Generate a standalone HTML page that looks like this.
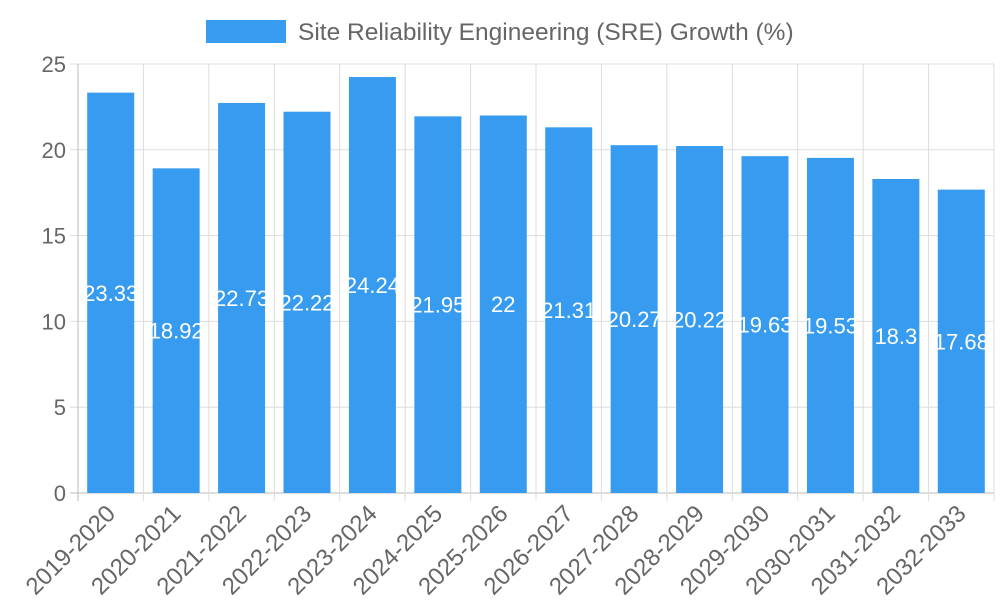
<!DOCTYPE html>
<html><head><meta charset="utf-8"><style>
body{margin:0;background:#fff;}
svg{display:block;font-family:"Liberation Sans",sans-serif;}
</style></head><body>
<svg id="chart" width="1000" height="600">
<rect x="206" y="20" width="80" height="23" fill="#379cef"/>
<text x="298" y="40" font-size="24.5" fill="#666">Site Reliability Engineering (SRE) Growth (%)</text>
<g id="grid"></g><g id="bars"></g><g id="labels"></g>
</svg>
<script>
const categories=["2019-2020","2020-2021","2021-2022","2022-2023","2023-2024","2024-2025","2025-2026","2026-2027","2027-2028","2028-2029","2029-2030","2030-2031","2031-2032","2032-2033"];
const values=[23.33,18.92,22.73,22.22,24.24,21.95,22,21.31,20.27,20.22,19.63,19.53,18.3,17.68];
const yTicks=[0,5,10,15,20,25];
const NS="http://www.w3.org/2000/svg";
const L=78,R=994,T=64,B=493,yMax=25;
const band=(R-L)/categories.length;
const y=v=>B-(v/yMax)*(B-T);
const x=i=>L+i*band;
function mk(tag,attrs,parent){const e=document.createElementNS(NS,tag);for(const k in attrs)e.setAttribute(k,attrs[k]);document.getElementById(parent).appendChild(e);return e;}
yTicks.forEach(t=>{
 const g=mk('line',{x1:L-8,x2:R,y1:y(t),y2:y(t),stroke:t===0?'#bbb':'#ddd'},'grid');
 
 
 const tx=mk('text',{x:L-12,y:y(t)+8,'text-anchor':'end','font-size':22,fill:'#666'},'grid');
 tx.textContent=t;
 
 
});
for(let i=0;i<=categories.length;i++){
 const g=mk('line',{x1:x(i),x2:x(i),y1:T,y2:B+8,stroke:i===0?'#bbb':'#ddd'},'grid');
 
 
}
categories.forEach((c,i)=>{
 const cx=x(i)+band/2,bw=47;
 const r=mk('rect',{x:cx-bw/2,y:y(values[i]),width:bw,height:B-y(values[i]),fill:'#379cef'},'bars');
 
 
 const v=mk('text',{x:cx,y:(y(values[i])+B)/2+8,'text-anchor':'middle','font-size':22,fill:'#fff'},'labels');
 v.textContent=values[i];
 
 
 const ax=cx+6,ay=B+22;
 const t=mk('text',{x:ax,y:ay,'text-anchor':'end','font-size':24,fill:'#666',transform:`rotate(-45 ${ax} ${ay})`},'labels');
 t.textContent=c;
 
 
});
</script>
</body></html>
